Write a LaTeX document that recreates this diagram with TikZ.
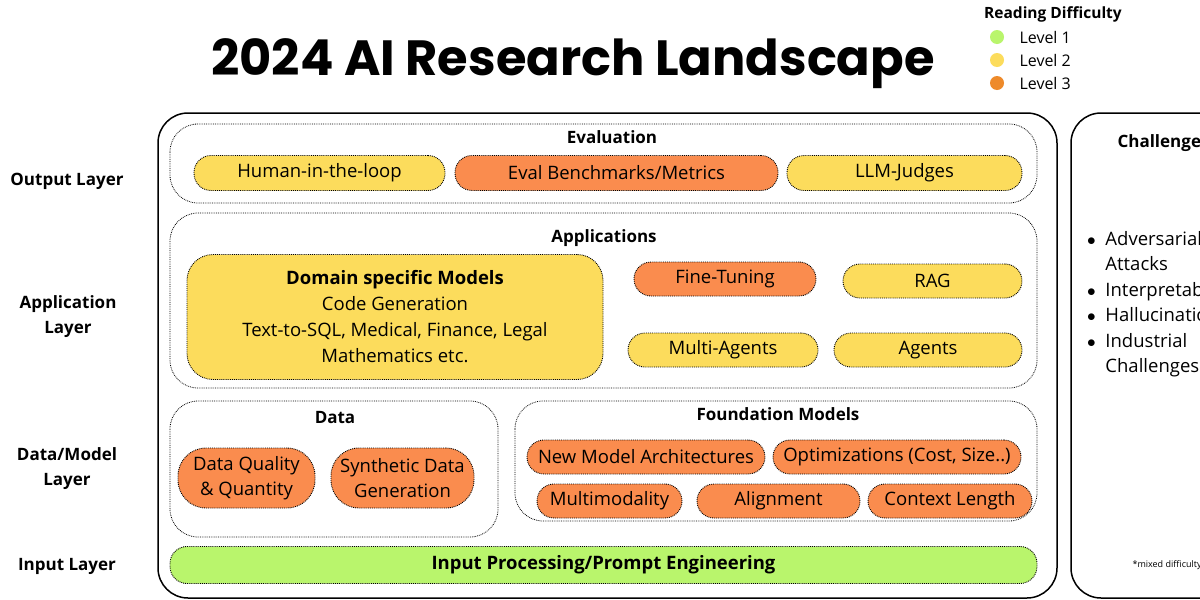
\documentclass[tikz,border=0pt]{standalone}
\usepackage{fontspec}
\setmainfont{Open Sans}
\newfontfamily\titlefont{Poppins}
\definecolor{yel}{HTML}{FCDC5C}
\definecolor{ora}{HTML}{FA8C4E}
\definecolor{grn}{HTML}{B9F56C}
\definecolor{lora}{HTML}{EE8A2A}
\begin{document}
\begin{tikzpicture}[x=1pt,y=-1pt,
  pill/.style={draw=black,densely dotted,line width=0.9pt,rounded corners=17pt,font=\fontsize{18.5}{22}\selectfont,inner sep=0pt,align=center},
  grp/.style={draw=black,densely dotted,line width=0.8pt,rounded corners=28pt},
  gtitle/.style={font=\fontsize{17}{20}\selectfont\bfseries},
  layer/.style={font=\fontsize{17}{25}\selectfont\bfseries,align=center},
  dot/.style={circle,inner sep=0pt,minimum size=14pt}]
\useasboundingbox (0,0) rectangle (1200,600);
\clip (0,0) rectangle (1200,600);
\fill[white] (0,0) rectangle (1200,600);
% title and legend
\node[font=\titlefont\fontsize{49.5}{52}\selectfont\bfseries] (title) at (573,64) {2024 AI Research Landscape};
\node[font=\fontsize{15.5}{18}\selectfont\bfseries] (leg) at (1053,14) {Reading Difficulty};
\node[dot,fill=grn] (d1) at (997,37) {};
\node[dot,fill=yel] (d2) at (997,60) {};
\node[dot,fill=lora] (d3) at (997,83) {};
\node[anchor=west,font=\fontsize{16}{18}\selectfont] (l1) at (1016,37) {Level 1};
\node[anchor=west,font=\fontsize{16}{18}\selectfont] (l2) at (1016,60) {Level 2};
\node[anchor=west,font=\fontsize{16}{18}\selectfont] (l3) at (1016,83) {Level 3};
% layer labels
\node[layer] (lo) at (67,181) {Output Layer};
\node[layer] (la) at (68,317) {Application\\Layer};
\node[layer] (ld) at (67,469) {Data/Model\\Layer};
\node[layer] (li) at (67,566) {Input Layer};
% main boxes
\draw[line width=1.5pt,rounded corners=30pt] (158,113) rectangle (1057,598);
\draw[line width=1.5pt,rounded corners=30pt] (1071,113) rectangle (1240,598);
% evaluation
\draw[grp] (170,124) rectangle (1037,203);
\node[gtitle] (ev) at (612,137) {Evaluation};
\node[pill,fill=yel,minimum width=251pt,minimum height=35pt] (h) at (319.5,173) {Human-in-the-loop};
\node[pill,fill=ora,minimum width=323pt,minimum height=35pt] (eb) at (616.5,173) {Eval Benchmarks/Metrics};
\node[pill,fill=yel,minimum width=235pt,minimum height=35pt] (lj) at (904.5,173) {LLM-Judges};
% applications
\draw[grp] (170,213) rectangle (1037,388);
\node[gtitle] (ap) at (604,238) {Applications};
\node[draw=black,densely dotted,line width=0.9pt,rounded corners=26pt,fill=yel,minimum width=416pt,minimum height=125pt,align=center,font=\fontsize{18.5}{26}\selectfont] (dom) at (395,317) {\textbf{Domain specific Models}\\Code Generation\\Text-to-SQL, Medical, Finance, Legal\\Mathematics etc.};
\node[pill,fill=ora,minimum width=182pt,minimum height=34pt] (ft) at (725,279) {Fine-Tuning};
\node[pill,fill=yel,minimum width=179pt,minimum height=34pt] (rag) at (932.5,281) {RAG};
\node[pill,fill=yel,minimum width=190pt,minimum height=34pt] (ma) at (723,350) {Multi-Agents};
\node[pill,fill=yel,minimum width=188pt,minimum height=34pt] (ag) at (928,350) {Agents};
% data
\draw[grp] (170,401) rectangle (498,537);
\node[gtitle] (dt) at (335,418) {Data};
\node[pill,fill=ora,rounded corners=28pt,minimum width=137pt,minimum height=60pt,font=\fontsize{18.5}{25}\selectfont] (dq) at (246.5,478) {Data Quality\\\& Quantity};
\node[pill,fill=ora,rounded corners=28pt,minimum width=143pt,minimum height=60pt,font=\fontsize{18.5}{25}\selectfont] (sd) at (402.5,478) {Synthetic Data\\Generation};
% foundation
\draw[grp] (515,401) rectangle (1037,521);
\node[gtitle] (fm) at (778,414) {Foundation Models};
\node[pill,fill=ora,minimum width=238pt,minimum height=34pt] (nm) at (646,457) {New Model Architectures};
\node[pill,fill=ora,minimum width=248pt,minimum height=34pt] (op) at (897,457) {Optimizations (Cost, Size..)};
\node[pill,fill=ora,minimum width=145pt,minimum height=34pt] (mm) at (609.5,501) {Multimodality};
\node[pill,fill=ora,minimum width=163pt,minimum height=34pt] (al) at (778.5,501) {Alignment};
\node[pill,fill=ora,minimum width=164pt,minimum height=34pt] (cl) at (950,501) {Context Length};
% input
\node[pill,fill=grn,minimum width=867pt,minimum height=37pt,font=\fontsize{18.5}{22}\selectfont\bfseries] (ip) at (603.5,565) {Input Processing/Prompt Engineering};
% challenges
\node[gtitle,anchor=west] (ch) at (1114,143) {Challenges};
\node[anchor=north west,align=left,font=\fontsize{18.5}{25.5}\selectfont,inner sep=0pt] (chl) at (1087,231) {%
$\bullet$\ \ Adversarial\\\phantom{$\bullet$\ \ }Attacks\\$\bullet$\ \ Interpretability\\$\bullet$\ \ Hallucinations\\$\bullet$\ \ Industrial\\\phantom{$\bullet$\ \ }Challenges};
\node[anchor=west,font=\fontsize{9}{10}\selectfont] (mx) at (1129,565) {*mixed difficulty};
\end{tikzpicture}
\end{document}
